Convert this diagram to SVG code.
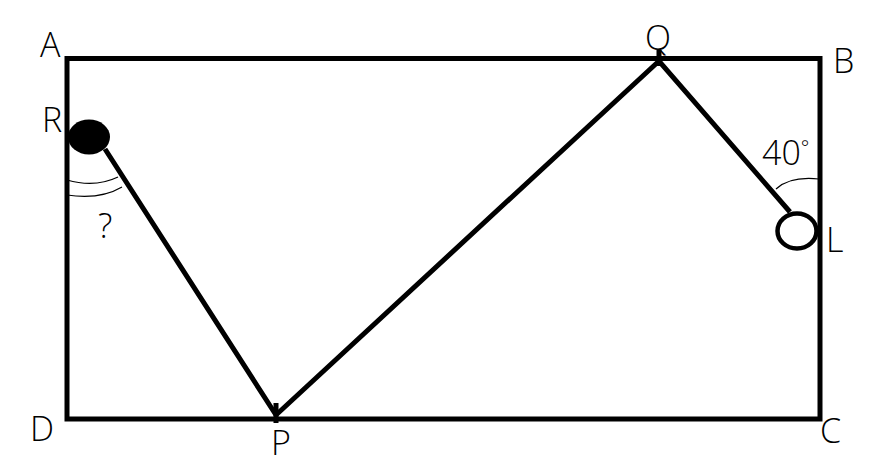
<svg xmlns="http://www.w3.org/2000/svg" width="878" height="472" viewBox="0 0 878 472">
<style>
.lbl{font-family:"Open Sans","Liberation Sans",sans-serif;font-weight:300;font-size:34px;fill:#000}
.thick{stroke:#000;stroke-width:5;fill:none;stroke-linecap:butt}
.arc{stroke:#000;stroke-width:1.2;fill:none}
</style>
<rect width="878" height="472" fill="#fff"/>
<g id="box"><rect x="67" y="58.5" width="753" height="360.5" class="thick"/></g>
<g id="connectors">
<path class="thick" d="M105 149 L276 415 L659 61 L790 212"/>
<path class="thick" d="M276 403 V423 M659 50 V66"/>
<path class="arc" d="M67 180 Q95 188 118 177"/>
<path class="arc" d="M67 195 Q100 200 122 187"/>
<path class="arc" d="M819 179 Q790 176 776 189"/>
</g>
<g id="R"><ellipse cx="89" cy="137" rx="21" ry="17.5" fill="#000"/><text class="lbl" x="42" y="132">R</text></g>
<g id="L"><ellipse cx="797" cy="231" rx="19.5" ry="17.5" fill="#fff" stroke="#000" stroke-width="4.5"/><text class="lbl" x="826" y="252">L</text></g>
<g id="labels">
<text class="lbl" x="40" y="57">A</text>
<text class="lbl" x="833" y="73">B</text>
<text class="lbl" x="820" y="443">C</text>
<text class="lbl" x="30" y="441">D</text>
<text class="lbl" x="271" y="455">P</text>
<text class="lbl" x="645" y="50">Q</text>
<text class="lbl" x="98" y="238">?</text>
<text class="lbl" x="762" y="165">40<tspan font-size="20" dy="-10">°</tspan></text>
</g>
</svg>
